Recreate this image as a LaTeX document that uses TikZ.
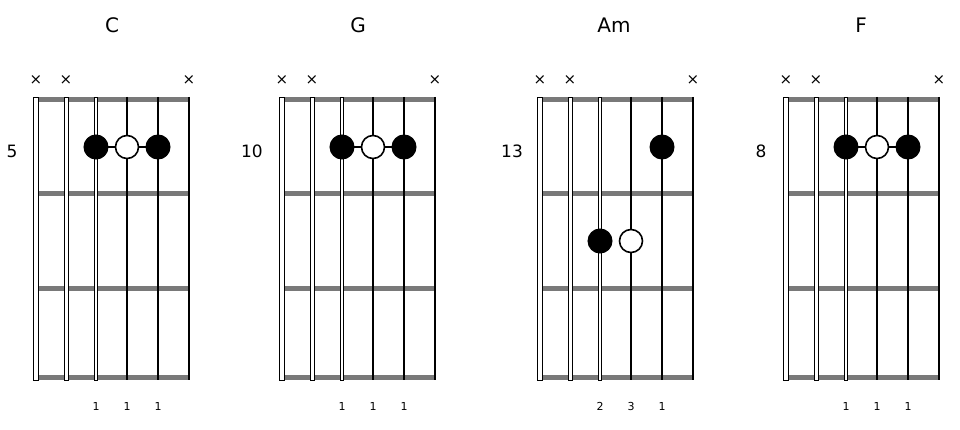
\documentclass[tikz,border=0pt]{standalone}
\usepackage{fontspec}
\setmainfont{DejaVu Sans}
\begin{document}
\begin{tikzpicture}[x=1pt,y=-1pt,
  fretbar/.style={draw=gray!95!black,line width=5pt},
  thin/.style={draw=black,line width=1.3pt},
  hollow/.style={draw=black,fill=white,line width=0.8pt},
  blackdot/.style={circle,fill=black,draw=black,line width=1pt,minimum size=24pt,inner sep=0pt},
  whitedot/.style={circle,fill=white,draw=black,line width=1.6pt,minimum size=23pt,inner sep=0pt},
  mute/.style={font=\fontsize{15}{15}\selectfont,inner sep=0pt},
  title/.style={font=\fontsize{20}{20}\selectfont,inner sep=0pt},
  fretnum/.style={font=\fontsize{17}{17}\selectfont,inner sep=0pt},
  finger/.style={font=\fontsize{11}{11}\selectfont,inner sep=0pt}]
\useasboundingbox (0,0) rectangle (960,430);
\newcommand{\chordgrid}[4]{%
  \begin{scope}[xshift=#1]
  \foreach \y in {100,194,288,377} \draw[fretbar] (36,\y) -- (189,\y);
  \foreach \x/\w in {36/2.5,66/2,96/1.5} \draw[hollow] (\x-\w,97) rectangle (\x+\w,380);
  \foreach \x in {127,158,189} \draw[thin] (\x,97) -- (\x,380);
  \foreach \x in {36,66,189} \node[mute] at (\x,80) {×};
  \node[title] at (#3,25) {#2};
  \node[fretnum] at (#4,151) {};
  \end{scope}}
\chordgrid{0pt}{C}{112}{12}
\chordgrid{246pt}{G}{112}{12}
\chordgrid{504pt}{Am}{110}{12}
\chordgrid{750pt}{F}{111}{12}
\node[fretnum] (n1) at (12,151) {5};
\node[fretnum] (n2) at (252,151) {10};
\node[fretnum] (n3) at (512,151) {13};
\node[fretnum] (n4) at (761,151) {8};
% C
\draw[line width=1.2pt] (96,147) -- (158,147);
\node[blackdot] (c1) at (96,147) {};
\node[whitedot] (c2) at (127,147) {};
\node[blackdot] (c3) at (158,147) {};
% G
\draw[line width=1.2pt] (342,147) -- (404,147);
\node[blackdot] (g1) at (342,147) {};
\node[whitedot] (g2) at (373,147) {};
\node[blackdot] (g3) at (404,147) {};
% Am
\node[blackdot] (a1) at (662,147) {};
\node[blackdot] (a2) at (600,241) {};
\node[whitedot] (a3) at (631,241) {};
% F
\draw[line width=1.2pt] (846,147) -- (908,147);
\node[blackdot] (f1) at (846,147) {};
\node[whitedot] (f2) at (877,147) {};
\node[blackdot] (f3) at (908,147) {};
% fingers
\foreach \x/\t in {96/1,127/1,158/1,342/1,373/1,404/1,600/2,631/3,662/1,846/1,877/1,908/1}
  \node[finger] at (\x,406) {\t};
\end{tikzpicture}
\end{document}
